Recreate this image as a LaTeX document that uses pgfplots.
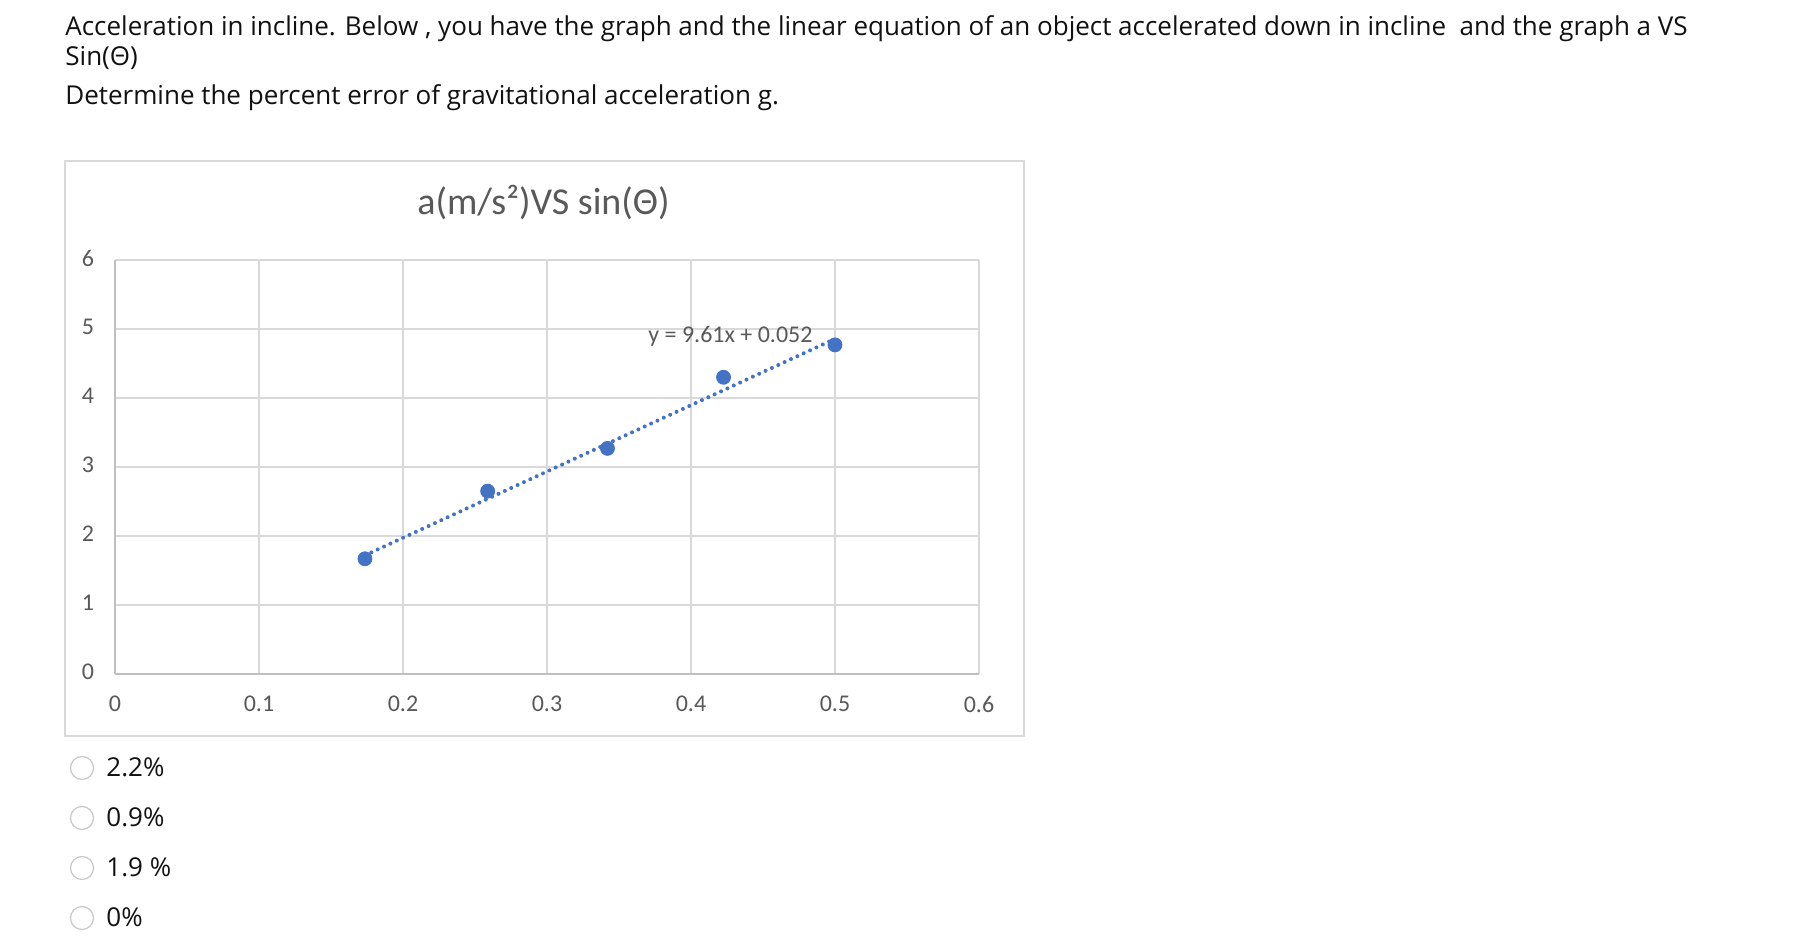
\documentclass[border=0pt]{standalone}
\usepackage{fontspec}
\setmainfont{Open Sans}
\newfontfamily\carlito{Carlito}
\usepackage{pgfplots}
\pgfplotsset{compat=1.18}

\definecolor{xlblue}{HTML}{4472C4}
\definecolor{gridgray}{HTML}{D9D9D9}
\definecolor{axgray}{HTML}{BFBFBF}
\definecolor{labgray}{HTML}{595959}
\definecolor{qtext}{HTML}{111111}
\definecolor{radio}{HTML}{C8C8C8}

\begin{document}
\begin{tikzpicture}[x=0.5pt,y=0.5pt]
\path[use as bounding box,fill=white] (0,0) rectangle (1810,946);

% question text
\begin{scope}[every node/.style={anchor=base west,inner sep=0,text=qtext,font=\fontsize{13pt}{15pt}\selectfont}]
\node at (65,910) {Acceleration in incline. Below , you have the graph and the linear equation of an object accelerated down in incline\ \ and the graph a VS};
\node at (65,880) {Sin(Θ)};
\node at (65,841) {Determine the percent error of gravitational acceleration g.};
\end{scope}

% chart frame
\draw[gridgray,line width=1pt] (65,210) rectangle (1024,785);

\begin{axis}[
    at={(57.5pt,136pt)}, anchor=south west,
    scale only axis, width=432pt, height=207pt,
    xmin=0, xmax=0.6, ymin=0, ymax=6,
    xtick={0,0.1,0.2,0.3,0.4,0.5,0.6},
    ytick={0,1,2,3,4,5,6},
    major tick length=0,
    grid=major,
    grid style={gridgray,line width=1pt},
    axis x line*=bottom, axis y line*=left,
    axis line style={-,draw=axgray,line width=1pt},
    tick label style={font=\carlito\fontsize{12pt}{12pt}\selectfont,text=labgray},
    /pgf/number format/assume math mode=true,
    xticklabel style={/pgf/number format/fixed,/pgf/number format/precision=1},
    yticklabel style={yshift=1pt},
    xticklabel shift=7.5pt,
    yticklabel shift=7pt,
    clip=false,
]
\addplot[xlblue, line width=2pt, line cap=round, dash pattern=on 0pt off 3.5pt]
    coordinates {(0.1736,1.72) (0.5,4.857)};
\addplot[only marks, mark=*, mark size=3.5pt, color=xlblue]
    coordinates {(0.1736,1.67) (0.2588,2.65) (0.3420,3.27) (0.4226,4.30) (0.5,4.77)};
\end{axis}

% chart title and trendline equation
\node[anchor=base west,inner sep=0,text=labgray,font=\carlito\fontsize{19pt}{19pt}\selectfont] at (417,731) {a(m/s²)VS sin(Θ)};
\node[anchor=base west,inner sep=0,text=labgray,font=\carlito\fontsize{12pt}{12pt}\selectfont] at (648,603) {y = 9.61x + 0.052};

% answer choices
\begin{scope}[every node/.style={anchor=base west,inner sep=0,text=qtext,font=\fontsize{13pt}{15pt}\selectfont}]
\foreach \yc/\yb/\t in {178/169/2.2\%, 128/119/0.9\%, 78/69/1.9 \%, 28/19/0\%}{
  \draw[radio,line width=0.6pt,fill=white] (82,\yc) circle (11.5);
  \node at (106,\yb) {\t};
}
\end{scope}
\end{tikzpicture}
\end{document}
